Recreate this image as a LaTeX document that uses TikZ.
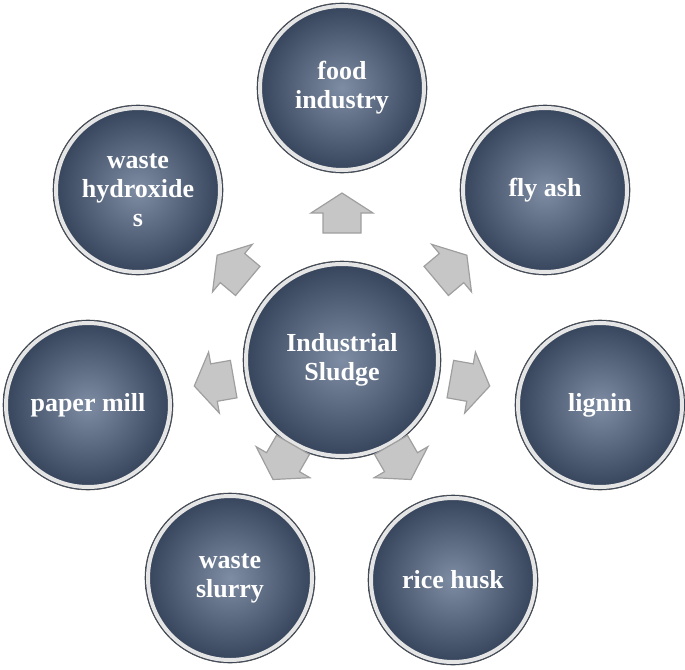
\documentclass[tikz,border=0pt]{standalone}
\usepackage{fontspec}
\setmainfont{Liberation Serif}
\definecolor{slateout}{HTML}{34435A}
\definecolor{slatein}{HTML}{7E8DA3}
\begin{document}
\begin{tikzpicture}[x=1pt,y=-1pt,
 ball/.style={circle,minimum size=#1,inner sep=0pt,align=center,text=white,
   font=\fontsize{26}{29}\selectfont\bfseries,
   draw=black!70,line width=0.6pt,
   outer color=slateout, inner color=slatein,
   path picture={\draw[white!80!gray,line width=4pt] (path picture bounding box.center) circle (#1/2-3pt);}},
 arr/.style={fill=gray!45,draw=gray!75,line width=1.2pt,line join=miter}]
\useasboundingbox (0,0) rectangle (685,669);
\node[ball=198pt] (c) at (342,360) {Industrial\\Sludge};
\node[ball=170pt] (n1) at (342,88) {food\\industry};
\node[ball=170pt] (n2) at (545,190) {fly ash};
\node[ball=170pt] (n3) at (600,405) {lignin};
\node[ball=170pt] (n4) at (453,580) {rice husk};
\node[ball=170pt] (n5) at (230,578) {waste\\slurry};
\node[ball=170pt] (n6) at (88,405) {paper mill};
\node[ball=170pt] (n7) at (138,190) {waste\\hydroxide\\s};
\foreach \a/\d in {90/147,40/143,-10/130,-60/118,-120/118,-170/130,140/143}{
 \begin{scope}[shift={(c.center)},rotate=\a]
  \draw[arr] (\d-20,-19) -- (\d,-19) -- (\d,-31) -- (\d+20,0) -- (\d,31) -- (\d,19) -- (\d-20,19) -- cycle;
 \end{scope}}
\end{tikzpicture}
\end{document}
